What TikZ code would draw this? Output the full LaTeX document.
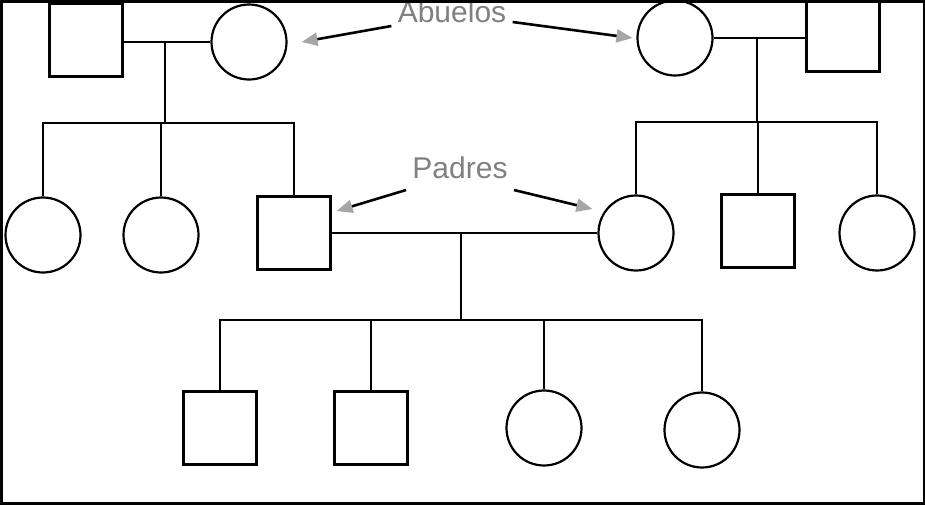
\documentclass[tikz,border=0pt]{standalone}
\usepackage{fontspec}
\setmainfont{Liberation Sans}
\usetikzlibrary{arrows.meta,calc}
\begin{document}
\begin{tikzpicture}[x=1pt,y=-1pt,line width=2.2pt,
  male/.style={draw,minimum width=73pt,minimum height=73pt,inner sep=0pt},
  female/.style={draw,circle,minimum size=75pt,inner sep=0pt},
  lbl/.style={text=gray,font=\fontsize{30}{32}\selectfont},
  ptr/.style={line width=2.6pt,-{Triangle[length=16pt,width=13pt,fill=gray!70,color=gray!70]}}]
\fill[white] (0,0) rectangle (925,504);
\useasboundingbox (0,0) rectangle (925,504);
% grandparents left
\node[male] (gf1) at (86,40) {};
\node[female] (gm1) at (249,42) {};
\coordinate (d1) at (165,42);
\coordinate (s1) at (165,123);
\draw (gf1.east |- d1) -- (gm1.west);
\draw (d1) -- (s1);
% left children
\node[female] (c1) at (43,235) {};
\node[female] (c2) at (161,235) {};
\node[male] (fa) at (294,233) {};
\draw (c1.north) |- (s1) -| (fa.north);
\draw (c2.north) -- (c2.north |- s1);
% grandparents right
\node[female] (gm2) at (675,38) {};
\node[male] (gf2) at (843,35) {};
\coordinate (d2) at (757,38);
\coordinate (s2) at (757,122);
\draw (gm2.east) -- (gf2.west |- d2);
\draw (d2) -- (s2);
\node[female] (mo) at (636,233) {};
\node[male] (c4) at (758,231) {};
\node[female] (c5) at (877,233) {};
\draw (mo.north) |- (s2) -| (c5.north);
\draw (c4.north) -- (c4.north |- s2);
% parents
\coordinate (d3) at (461,233);
\coordinate (s3) at (461,320);
\draw (fa.east) -- (mo.west);
\draw (d3) -- (s3);
\node[male] (k1) at (220,428) {};
\node[male] (k2) at (371,428) {};
\node[female] (k3) at (544,428) {};
\node[female] (k4) at (702,430) {};
\draw (k1.north) |- (s3) -| (k4.north);
\draw (k2.north) -- (k2.north |- s3);
\draw (k3.north) -- (k3.north |- s3);
% labels
\node[lbl] (ab) at (452,12) {Abuelos};
\node[lbl] (pa) at (460,168) {Padres};
\draw[ptr] ($(ab.west)+(-2,14)$) -- ($(gm1.east)+(14,0)$);
\draw[ptr] ($(ab.east)+(2,10)$) -- ($(gm2.west)+(-4,0)$);
\draw[ptr] ($(pa.west)+(-2,22)$) -- ($(fa.east)+(5,-22)$);
\draw[ptr] ($(pa.east)+(2,22)$) -- ($(mo.west)+(-5,-24)$);
\draw[line width=5pt] (0,0) rectangle (925,504);
\end{tikzpicture}
\end{document}
